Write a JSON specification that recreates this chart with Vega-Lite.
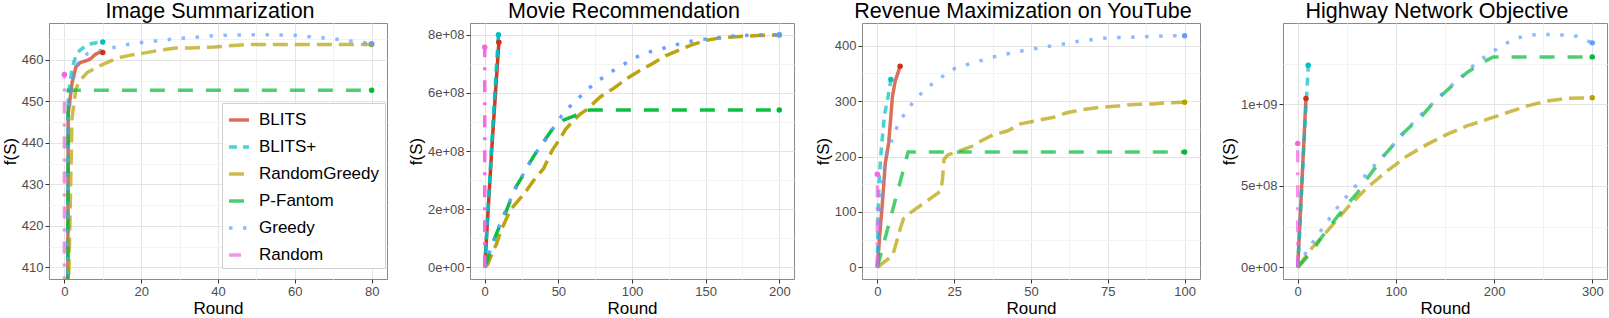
{
"$schema": "https://vega.github.io/schema/vega-lite/v6.json",
"padding": 0,
"spacing": 18,
"datasets": {"d": [
{"panel":1,"alg":"BLITS","round":0,"f":0},{"panel":1,"alg":"BLITS","round":1,"f":447},{"panel":1,"alg":"BLITS","round":2,"f":454.5},{"panel":1,"alg":"BLITS","round":3,"f":458.3},{"panel":1,"alg":"BLITS","round":4,"f":459.3},{"panel":1,"alg":"BLITS","round":5,"f":459.6},{"panel":1,"alg":"BLITS","round":6,"f":459.9},{"panel":1,"alg":"BLITS","round":7,"f":460.4},{"panel":1,"alg":"BLITS","round":8,"f":461.3},{"panel":1,"alg":"BLITS","round":9,"f":461.8},{"panel":1,"alg":"BLITS","round":10,"f":461.8},
{"panel":1,"alg":"BLITS+","round":0,"f":0},{"panel":1,"alg":"BLITS+","round":1,"f":451.5},{"panel":1,"alg":"BLITS+","round":2,"f":458},{"panel":1,"alg":"BLITS+","round":3,"f":461},{"panel":1,"alg":"BLITS+","round":4,"f":462.3},{"panel":1,"alg":"BLITS+","round":5,"f":463},{"panel":1,"alg":"BLITS+","round":6,"f":463.5},{"panel":1,"alg":"BLITS+","round":7,"f":463.9},{"panel":1,"alg":"BLITS+","round":8,"f":464.1},{"panel":1,"alg":"BLITS+","round":9,"f":464.3},{"panel":1,"alg":"BLITS+","round":10,"f":464.3},
{"panel":1,"alg":"RandomGreedy","round":0,"f":0},{"panel":1,"alg":"RandomGreedy","round":1,"f":400},{"panel":1,"alg":"RandomGreedy","round":2,"f":446},{"panel":1,"alg":"RandomGreedy","round":3,"f":453},{"panel":1,"alg":"RandomGreedy","round":4,"f":455},{"panel":1,"alg":"RandomGreedy","round":6,"f":457},{"panel":1,"alg":"RandomGreedy","round":9,"f":458.5},{"panel":1,"alg":"RandomGreedy","round":14,"f":460.5},{"panel":1,"alg":"RandomGreedy","round":17,"f":461.1},{"panel":1,"alg":"RandomGreedy","round":21,"f":461.7},{"panel":1,"alg":"RandomGreedy","round":24,"f":462.2},{"panel":1,"alg":"RandomGreedy","round":29,"f":462.9},{"panel":1,"alg":"RandomGreedy","round":33,"f":462.9},{"panel":1,"alg":"RandomGreedy","round":39,"f":463.1},{"panel":1,"alg":"RandomGreedy","round":44,"f":463.5},{"panel":1,"alg":"RandomGreedy","round":48,"f":463.7},{"panel":1,"alg":"RandomGreedy","round":60,"f":463.7},{"panel":1,"alg":"RandomGreedy","round":80,"f":463.7},
{"panel":1,"alg":"P-Fantom","round":0,"f":0},{"panel":1,"alg":"P-Fantom","round":1,"f":452.7},{"panel":1,"alg":"P-Fantom","round":80,"f":452.7},
{"panel":1,"alg":"Greedy","round":0,"f":0},{"panel":1,"alg":"Greedy","round":1,"f":446},{"panel":1,"alg":"Greedy","round":2,"f":454},{"panel":1,"alg":"Greedy","round":3,"f":458},{"panel":1,"alg":"Greedy","round":4,"f":460.3},{"panel":1,"alg":"Greedy","round":6,"f":461.5},{"panel":1,"alg":"Greedy","round":8,"f":462},{"panel":1,"alg":"Greedy","round":10,"f":462.4},{"panel":1,"alg":"Greedy","round":12,"f":462.8},{"panel":1,"alg":"Greedy","round":15,"f":463.5},{"panel":1,"alg":"Greedy","round":19,"f":464.1},{"panel":1,"alg":"Greedy","round":23,"f":464.5},{"panel":1,"alg":"Greedy","round":30,"f":465.2},{"panel":1,"alg":"Greedy","round":40,"f":465.9},{"panel":1,"alg":"Greedy","round":50,"f":466.1},{"panel":1,"alg":"Greedy","round":59,"f":466},{"panel":1,"alg":"Greedy","round":66,"f":465.4},{"panel":1,"alg":"Greedy","round":70,"f":465.1},{"panel":1,"alg":"Greedy","round":73,"f":464.7},{"panel":1,"alg":"Greedy","round":77,"f":464.3},{"panel":1,"alg":"Greedy","round":80,"f":463.9},
{"panel":1,"alg":"Random","round":0,"f":0},{"panel":1,"alg":"Random","round":0,"f":456.5},

{"panel":2,"alg":"BLITS","round":0,"f":0},{"panel":2,"alg":"BLITS","round":4.7,"f":4.0e8},{"panel":2,"alg":"BLITS","round":9.6,"f":7.74e8},
{"panel":2,"alg":"BLITS+","round":0,"f":0},{"panel":2,"alg":"BLITS+","round":4.5,"f":4.0e8},{"panel":2,"alg":"BLITS+","round":9.3,"f":8.0e8},
{"panel":2,"alg":"RandomGreedy","round":0,"f":0},{"panel":2,"alg":"RandomGreedy","round":2,"f":0.1e8},{"panel":2,"alg":"RandomGreedy","round":5.5,"f":0.55e8},{"panel":2,"alg":"RandomGreedy","round":8,"f":0.8e8},{"panel":2,"alg":"RandomGreedy","round":11,"f":1.26e8},{"panel":2,"alg":"RandomGreedy","round":17.7,"f":2.0e8},{"panel":2,"alg":"RandomGreedy","round":26.6,"f":2.52e8},{"panel":2,"alg":"RandomGreedy","round":33.4,"f":3.0e8},{"panel":2,"alg":"RandomGreedy","round":40,"f":3.4e8},{"panel":2,"alg":"RandomGreedy","round":45.5,"f":4.0e8},{"panel":2,"alg":"RandomGreedy","round":51.3,"f":4.44e8},{"panel":2,"alg":"RandomGreedy","round":55,"f":4.75e8},{"panel":2,"alg":"RandomGreedy","round":60.3,"f":5.04e8},{"panel":2,"alg":"RandomGreedy","round":64.8,"f":5.27e8},{"panel":2,"alg":"RandomGreedy","round":69.3,"f":5.42e8},{"panel":2,"alg":"RandomGreedy","round":78.2,"f":5.85e8},{"panel":2,"alg":"RandomGreedy","round":88,"f":6.17e8},{"panel":2,"alg":"RandomGreedy","round":96.2,"f":6.48e8},{"panel":2,"alg":"RandomGreedy","round":105.1,"f":6.76e8},{"panel":2,"alg":"RandomGreedy","round":114.1,"f":7.01e8},{"panel":2,"alg":"RandomGreedy","round":123.1,"f":7.28e8},{"panel":2,"alg":"RandomGreedy","round":132,"f":7.47e8},{"panel":2,"alg":"RandomGreedy","round":141,"f":7.66e8},{"panel":2,"alg":"RandomGreedy","round":150,"f":7.8e8},{"panel":2,"alg":"RandomGreedy","round":159,"f":7.88e8},{"panel":2,"alg":"RandomGreedy","round":168,"f":7.92e8},{"panel":2,"alg":"RandomGreedy","round":177,"f":7.95e8},{"panel":2,"alg":"RandomGreedy","round":186,"f":7.97e8},{"panel":2,"alg":"RandomGreedy","round":200,"f":7.99e8},
{"panel":2,"alg":"P-Fantom","round":0,"f":0},{"panel":2,"alg":"P-Fantom","round":6.5,"f":0.97e8},{"panel":2,"alg":"P-Fantom","round":9.8,"f":1.38e8},{"panel":2,"alg":"P-Fantom","round":14,"f":1.86e8},{"panel":2,"alg":"P-Fantom","round":21,"f":2.75e8},{"panel":2,"alg":"P-Fantom","round":26.6,"f":3.21e8},{"panel":2,"alg":"P-Fantom","round":30,"f":3.55e8},{"panel":2,"alg":"P-Fantom","round":35.6,"f":4.01e8},{"panel":2,"alg":"P-Fantom","round":41.2,"f":4.41e8},{"panel":2,"alg":"P-Fantom","round":46.8,"f":4.81e8},{"panel":2,"alg":"P-Fantom","round":53.5,"f":5.06e8},{"panel":2,"alg":"P-Fantom","round":61.4,"f":5.22e8},{"panel":2,"alg":"P-Fantom","round":66,"f":5.39e8},{"panel":2,"alg":"P-Fantom","round":71.5,"f":5.41e8},{"panel":2,"alg":"P-Fantom","round":200,"f":5.41e8},
{"panel":2,"alg":"Greedy","round":0,"f":0},{"panel":2,"alg":"Greedy","round":3.1,"f":0.5e8},{"panel":2,"alg":"Greedy","round":6.5,"f":0.97e8},{"panel":2,"alg":"Greedy","round":9.8,"f":1.42e8},{"panel":2,"alg":"Greedy","round":13.5,"f":1.87e8},{"panel":2,"alg":"Greedy","round":17.5,"f":2.33e8},{"panel":2,"alg":"Greedy","round":21.3,"f":2.75e8},{"panel":2,"alg":"Greedy","round":25.6,"f":3.15e8},{"panel":2,"alg":"Greedy","round":30.5,"f":3.6e8},{"panel":2,"alg":"Greedy","round":35.7,"f":4.0e8},{"panel":2,"alg":"Greedy","round":41.2,"f":4.38e8},{"panel":2,"alg":"Greedy","round":46.6,"f":4.79e8},{"panel":2,"alg":"Greedy","round":51.6,"f":5.17e8},{"panel":2,"alg":"Greedy","round":57.8,"f":5.53e8},{"panel":2,"alg":"Greedy","round":64.5,"f":5.86e8},{"panel":2,"alg":"Greedy","round":71.5,"f":6.19e8},{"panel":2,"alg":"Greedy","round":79.2,"f":6.49e8},{"panel":2,"alg":"Greedy","round":87,"f":6.76e8},{"panel":2,"alg":"Greedy","round":94.8,"f":6.99e8},{"panel":2,"alg":"Greedy","round":102.5,"f":7.22e8},{"panel":2,"alg":"Greedy","round":110.7,"f":7.39e8},{"panel":2,"alg":"Greedy","round":119.7,"f":7.51e8},{"panel":2,"alg":"Greedy","round":127.5,"f":7.62e8},{"panel":2,"alg":"Greedy","round":136.5,"f":7.74e8},{"panel":2,"alg":"Greedy","round":145.5,"f":7.82e8},{"panel":2,"alg":"Greedy","round":155.6,"f":7.88e8},{"panel":2,"alg":"Greedy","round":164.5,"f":7.93e8},{"panel":2,"alg":"Greedy","round":174.6,"f":7.97e8},{"panel":2,"alg":"Greedy","round":184.7,"f":7.99e8},{"panel":2,"alg":"Greedy","round":200,"f":8.0e8},
{"panel":2,"alg":"Random","round":0,"f":0},{"panel":2,"alg":"Random","round":0,"f":7.57e8},

{"panel":3,"alg":"BLITS","round":0,"f":0},{"panel":3,"alg":"BLITS","round":0.8,"f":60},{"panel":3,"alg":"BLITS","round":1.6,"f":114},{"panel":3,"alg":"BLITS","round":2.6,"f":189},{"panel":3,"alg":"BLITS","round":3.7,"f":225},{"panel":3,"alg":"BLITS","round":4.9,"f":308},{"panel":3,"alg":"BLITS","round":5.8,"f":336},{"panel":3,"alg":"BLITS","round":7.4,"f":363},
{"panel":3,"alg":"BLITS+","round":0,"f":0},{"panel":3,"alg":"BLITS+","round":0.2,"f":90},{"panel":3,"alg":"BLITS+","round":0.5,"f":150},{"panel":3,"alg":"BLITS+","round":1.3,"f":216},{"panel":3,"alg":"BLITS+","round":2.3,"f":274},{"panel":3,"alg":"BLITS+","round":3.5,"f":309},{"panel":3,"alg":"BLITS+","round":4.4,"f":339},
{"panel":3,"alg":"RandomGreedy","round":0,"f":0},{"panel":3,"alg":"RandomGreedy","round":5,"f":22},{"panel":3,"alg":"RandomGreedy","round":6.2,"f":45},{"panel":3,"alg":"RandomGreedy","round":7.2,"f":65},{"panel":3,"alg":"RandomGreedy","round":8.5,"f":88},{"panel":3,"alg":"RandomGreedy","round":10,"f":96},{"panel":3,"alg":"RandomGreedy","round":12.1,"f":104},{"panel":3,"alg":"RandomGreedy","round":16.4,"f":121},{"panel":3,"alg":"RandomGreedy","round":20.7,"f":138},{"panel":3,"alg":"RandomGreedy","round":21.2,"f":160},{"panel":3,"alg":"RandomGreedy","round":21.7,"f":195},{"panel":3,"alg":"RandomGreedy","round":23,"f":203},{"panel":3,"alg":"RandomGreedy","round":26.7,"f":210},{"panel":3,"alg":"RandomGreedy","round":31,"f":219},{"panel":3,"alg":"RandomGreedy","round":33.7,"f":228},{"panel":3,"alg":"RandomGreedy","round":38,"f":240},{"panel":3,"alg":"RandomGreedy","round":42.3,"f":246},{"panel":3,"alg":"RandomGreedy","round":46.6,"f":259},{"panel":3,"alg":"RandomGreedy","round":52,"f":265},{"panel":3,"alg":"RandomGreedy","round":57.4,"f":271},{"panel":3,"alg":"RandomGreedy","round":61.7,"f":279},{"panel":3,"alg":"RandomGreedy","round":67.1,"f":285},{"panel":3,"alg":"RandomGreedy","round":72.5,"f":289},{"panel":3,"alg":"RandomGreedy","round":77.9,"f":291},{"panel":3,"alg":"RandomGreedy","round":83.3,"f":294},{"panel":3,"alg":"RandomGreedy","round":89.7,"f":295},{"panel":3,"alg":"RandomGreedy","round":94,"f":297},{"panel":3,"alg":"RandomGreedy","round":100,"f":298},
{"panel":3,"alg":"P-Fantom","round":0,"f":0},{"panel":3,"alg":"P-Fantom","round":10,"f":208},{"panel":3,"alg":"P-Fantom","round":100,"f":208},
{"panel":3,"alg":"Greedy","round":0,"f":0},{"panel":3,"alg":"Greedy","round":0.5,"f":60},{"panel":3,"alg":"Greedy","round":1,"f":105},{"panel":3,"alg":"Greedy","round":1.5,"f":150},{"panel":3,"alg":"Greedy","round":2.9,"f":201},{"panel":3,"alg":"Greedy","round":4.4,"f":224},{"panel":3,"alg":"Greedy","round":5.7,"f":245},{"panel":3,"alg":"Greedy","round":7.2,"f":263},{"panel":3,"alg":"Greedy","round":9.1,"f":279},{"panel":3,"alg":"Greedy","round":11.2,"f":295},{"panel":3,"alg":"Greedy","round":13.7,"f":310.7},{"panel":3,"alg":"Greedy","round":16.3,"f":324.5},{"panel":3,"alg":"Greedy","round":19.3,"f":337},{"panel":3,"alg":"Greedy","round":22.2,"f":348.5},{"panel":3,"alg":"Greedy","round":25.2,"f":359},{"panel":3,"alg":"Greedy","round":28.7,"f":365},{"panel":3,"alg":"Greedy","round":32.3,"f":371},{"panel":3,"alg":"Greedy","round":35.7,"f":376},{"panel":3,"alg":"Greedy","round":39.2,"f":382},{"panel":3,"alg":"Greedy","round":42.8,"f":386},{"panel":3,"alg":"Greedy","round":46.4,"f":390},{"panel":3,"alg":"Greedy","round":49.9,"f":393.5},{"panel":3,"alg":"Greedy","round":53.1,"f":396.5},{"panel":3,"alg":"Greedy","round":56.9,"f":400},{"panel":3,"alg":"Greedy","round":60.6,"f":403},{"panel":3,"alg":"Greedy","round":63.8,"f":406.6},{"panel":3,"alg":"Greedy","round":67,"f":409},{"panel":3,"alg":"Greedy","round":70.9,"f":412},{"panel":3,"alg":"Greedy","round":74.6,"f":414},{"panel":3,"alg":"Greedy","round":79,"f":415},{"panel":3,"alg":"Greedy","round":85.4,"f":415.7},{"panel":3,"alg":"Greedy","round":89.7,"f":416.9},{"panel":3,"alg":"Greedy","round":95.7,"f":418},{"panel":3,"alg":"Greedy","round":100,"f":418},
{"panel":3,"alg":"Random","round":0,"f":0},{"panel":3,"alg":"Random","round":0,"f":168},

{"panel":4,"alg":"BLITS","round":0,"f":0},{"panel":4,"alg":"BLITS","round":8.4,"f":1.037e9},
{"panel":4,"alg":"BLITS+","round":0,"f":0},{"panel":4,"alg":"BLITS+","round":8.4,"f":1.0e9},{"panel":4,"alg":"BLITS+","round":9.1,"f":1.06e9},{"panel":4,"alg":"BLITS+","round":10.1,"f":1.163e9},{"panel":4,"alg":"BLITS+","round":10.7,"f":1.24e9},
{"panel":4,"alg":"RandomGreedy","round":0,"f":0},{"panel":4,"alg":"RandomGreedy","round":13.5,"f":0.112e9},{"panel":4,"alg":"RandomGreedy","round":30.4,"f":0.225e9},{"panel":4,"alg":"RandomGreedy","round":50.7,"f":0.367e9},{"panel":4,"alg":"RandomGreedy","round":70.9,"f":0.49e9},{"panel":4,"alg":"RandomGreedy","round":91.2,"f":0.592e9},{"panel":4,"alg":"RandomGreedy","round":111.5,"f":0.684e9},{"panel":4,"alg":"RandomGreedy","round":131.8,"f":0.755e9},{"panel":4,"alg":"RandomGreedy","round":152,"f":0.816e9},{"panel":4,"alg":"RandomGreedy","round":172.3,"f":0.868e9},{"panel":4,"alg":"RandomGreedy","round":192.6,"f":0.908e9},{"panel":4,"alg":"RandomGreedy","round":212.8,"f":0.949e9},{"panel":4,"alg":"RandomGreedy","round":233.1,"f":0.99e9},{"panel":4,"alg":"RandomGreedy","round":253.4,"f":1.021e9},{"panel":4,"alg":"RandomGreedy","round":273.6,"f":1.037e9},{"panel":4,"alg":"RandomGreedy","round":300,"f":1.041e9},
{"panel":4,"alg":"P-Fantom","round":0,"f":0},{"panel":4,"alg":"P-Fantom","round":15,"f":0.1e9},{"panel":4,"alg":"P-Fantom","round":25,"f":0.19e9},{"panel":4,"alg":"P-Fantom","round":37,"f":0.286e9},{"panel":4,"alg":"P-Fantom","round":52,"f":0.398e9},{"panel":4,"alg":"P-Fantom","round":61,"f":0.459e9},{"panel":4,"alg":"P-Fantom","round":69,"f":0.531e9},{"panel":4,"alg":"P-Fantom","round":79,"f":0.612e9},{"panel":4,"alg":"P-Fantom","round":86,"f":0.674e9},{"panel":4,"alg":"P-Fantom","round":98,"f":0.755e9},{"panel":4,"alg":"P-Fantom","round":106,"f":0.816e9},{"panel":4,"alg":"P-Fantom","round":117,"f":0.878e9},{"panel":4,"alg":"P-Fantom","round":125,"f":0.919e9},{"panel":4,"alg":"P-Fantom","round":138,"f":1.01e9},{"panel":4,"alg":"P-Fantom","round":150,"f":1.075e9},{"panel":4,"alg":"P-Fantom","round":160,"f":1.13e9},{"panel":4,"alg":"P-Fantom","round":172,"f":1.194e9},{"panel":4,"alg":"P-Fantom","round":186,"f":1.25e9},{"panel":4,"alg":"P-Fantom","round":199,"f":1.292e9},{"panel":4,"alg":"P-Fantom","round":300,"f":1.292e9},
{"panel":4,"alg":"Greedy","round":0,"f":0},{"panel":4,"alg":"Greedy","round":7.4,"f":0.081e9},{"panel":4,"alg":"Greedy","round":15.2,"f":0.153e9},{"panel":4,"alg":"Greedy","round":23.6,"f":0.225e9},{"panel":4,"alg":"Greedy","round":32,"f":0.296e9},{"panel":4,"alg":"Greedy","round":39.8,"f":0.363e9},{"panel":4,"alg":"Greedy","round":49,"f":0.429e9},{"panel":4,"alg":"Greedy","round":58.1,"f":0.494e9},{"panel":4,"alg":"Greedy","round":67.5,"f":0.555e9},{"panel":4,"alg":"Greedy","round":77.7,"f":0.623e9},{"panel":4,"alg":"Greedy","round":87.2,"f":0.684e9},{"panel":4,"alg":"Greedy","round":97.3,"f":0.751e9},{"panel":4,"alg":"Greedy","round":106.4,"f":0.813e9},{"panel":4,"alg":"Greedy","round":115.5,"f":0.874e9},{"panel":4,"alg":"Greedy","round":125.7,"f":0.939e9},{"panel":4,"alg":"Greedy","round":135.8,"f":0.996e9},{"panel":4,"alg":"Greedy","round":146,"f":1.058e9},{"panel":4,"alg":"Greedy","round":156,"f":1.113e9},{"panel":4,"alg":"Greedy","round":167.2,"f":1.174e9},{"panel":4,"alg":"Greedy","round":177.3,"f":1.231e9},{"panel":4,"alg":"Greedy","round":187.5,"f":1.28e9},{"panel":4,"alg":"Greedy","round":199.3,"f":1.327e9},{"panel":4,"alg":"Greedy","round":210,"f":1.367e9},{"panel":4,"alg":"Greedy","round":221.2,"f":1.404e9},{"panel":4,"alg":"Greedy","round":234.7,"f":1.425e9},{"panel":4,"alg":"Greedy","round":246.5,"f":1.429e9},{"panel":4,"alg":"Greedy","round":260,"f":1.429e9},{"panel":4,"alg":"Greedy","round":273.6,"f":1.425e9},{"panel":4,"alg":"Greedy","round":283.8,"f":1.419e9},{"panel":4,"alg":"Greedy","round":300,"f":1.378e9},
{"panel":4,"alg":"Random","round":0,"f":0},{"panel":4,"alg":"Random","round":0,"f":0.761e9}
]},
"data": {"name": "d"},
"hconcat": [
{
 "width": 338, "height": 256,
 "title": {"text": "Image Summarization"},
 "transform": [{"filter": "datum.panel === 1"}],
 "encoding": {
  "x": {"field": "round", "type": "quantitative", "title": "Round", "scale": {"domain": [-4, 84], "nice": false, "zero": false},
        "axis": {"values": [0,10,20,30,40,50,60,70,80], "labelExpr": "datum.value % 20 === 0 ? datum.label : ''",
                 "tickOpacity": {"condition": {"test": "datum.value % 20 !== 0", "value": 0}, "value": 1},
                 "gridColor": {"condition": {"test": "datum.value % 20 !== 0", "value": "#f3f3f3"}, "value": "#e4e4e4"}}},
  "y": {"field": "f", "type": "quantitative", "title": "f(S)", "scale": {"domain": [407.2, 468.9], "nice": false, "zero": false},
        "axis": {"values": [410,415,420,425,430,435,440,445,450,455,460,465], "labelExpr": "datum.value % 10 === 0 ? datum.label : ''",
                 "tickOpacity": {"condition": {"test": "datum.value % 10 !== 0", "value": 0}, "value": 1},
                 "gridColor": {"condition": {"test": "datum.value % 10 !== 0", "value": "#f3f3f3"}, "value": "#e4e4e4"}}},
  "color": {"field": "alg", "type": "nominal",
            "scale": {"domain": ["BLITS","BLITS+","RandomGreedy","P-Fantom","Greedy","Random"], "range": ["#CD3214","#00BFC4","#B79F00","#00BA38","#619CFF","#F564E3"]},
            "legend": {"title": null, "orient": "none", "legendX": 173, "legendY": 80}}
 },
 "layer": [
  {"mark": {"type": "line", "strokeWidth": 3.5, "opacity": 0.7, "clip": true, "strokeCap": "butt"},
   "encoding": {"strokeDash": {"field": "alg", "type": "nominal",
     "scale": {"domain": ["BLITS","BLITS+","RandomGreedy","P-Fantom","Greedy","Random"], "range": [[1,0],[8,6],[15,7],[15,13],[3.5,10.5],[12,10,3,10]]},
     "legend": {"title": null, "orient": "none", "legendX": 173, "legendY": 80}}}},
  {"transform": [{"window": [{"op": "row_number", "as": "rn"}], "groupby": ["alg"]},
                 {"joinaggregate": [{"op": "count", "as": "n"}], "groupby": ["alg"]},
                 {"filter": "datum.rn === datum.n"}],
   "mark": {"type": "circle", "size": 30, "opacity": 1, "clip": true},
   "encoding": {"color": {"field": "alg", "type": "nominal", "legend": null}}}
 ]
},
{
 "width": 324, "height": 256,
 "title": {"text": "Movie Recommendation"},
 "transform": [{"filter": "datum.panel === 2"}],
 "encoding": {
  "x": {"field": "round", "type": "quantitative", "title": "Round", "scale": {"domain": [-10, 210], "nice": false, "zero": false},
        "axis": {"values": [0,25,50,75,100,125,150,175,200], "labelExpr": "datum.value % 50 === 0 ? datum.label : ''",
                 "tickOpacity": {"condition": {"test": "datum.value % 50 !== 0", "value": 0}, "value": 1},
                 "gridColor": {"condition": {"test": "datum.value % 50 !== 0", "value": "#f3f3f3"}, "value": "#e4e4e4"}}},
  "y": {"field": "f", "type": "quantitative", "title": "f(S)", "scale": {"domain": [-0.4e8, 8.4e8], "nice": false, "zero": false},
        "axis": {"values": [0,1e8,2e8,3e8,4e8,5e8,6e8,7e8,8e8],
                 "labelExpr": "datum.value === 0 ? '0e+00' : (datum.value % 2e8 === 0 ? (datum.value / 1e8) + 'e+08' : '')",
                 "tickOpacity": {"condition": {"test": "datum.value % 2e8 !== 0", "value": 0}, "value": 1},
                 "gridColor": {"condition": {"test": "datum.value % 2e8 !== 0", "value": "#f3f3f3"}, "value": "#e4e4e4"}}},
  "color": {"field": "alg", "type": "nominal"}
 },
 "layer": [
  {"mark": {"type": "line", "strokeWidth": 3.5, "opacity": 0.95, "clip": true, "strokeCap": "butt"},
   "encoding": {"strokeDash": {"field": "alg", "type": "nominal"}}},
  {"transform": [{"window": [{"op": "row_number", "as": "rn"}], "groupby": ["alg"]},
                 {"joinaggregate": [{"op": "count", "as": "n"}], "groupby": ["alg"]},
                 {"filter": "datum.rn === datum.n"}],
   "mark": {"type": "circle", "size": 30, "opacity": 1, "clip": true},
   "encoding": {"color": {"field": "alg", "type": "nominal", "legend": null}}}
 ]
},
{
 "width": 338, "height": 256,
 "title": {"text": "Revenue Maximization on YouTube"},
 "transform": [{"filter": "datum.panel === 3"}],
 "encoding": {
  "x": {"field": "round", "type": "quantitative", "title": "Round", "scale": {"domain": [-5, 105], "nice": false, "zero": false},
        "axis": {"values": [0,12.5,25,37.5,50,62.5,75,87.5,100], "labelExpr": "datum.value % 25 === 0 ? datum.label : ''",
                 "tickOpacity": {"condition": {"test": "datum.value % 25 !== 0", "value": 0}, "value": 1},
                 "gridColor": {"condition": {"test": "datum.value % 25 !== 0", "value": "#f3f3f3"}, "value": "#e4e4e4"}}},
  "y": {"field": "f", "type": "quantitative", "title": "f(S)", "scale": {"domain": [-21, 441], "nice": false, "zero": false},
        "axis": {"values": [0,50,100,150,200,250,300,350,400], "labelExpr": "datum.value % 100 === 0 ? datum.label : ''",
                 "tickOpacity": {"condition": {"test": "datum.value % 100 !== 0", "value": 0}, "value": 1},
                 "gridColor": {"condition": {"test": "datum.value % 100 !== 0", "value": "#f3f3f3"}, "value": "#e4e4e4"}}},
  "color": {"field": "alg", "type": "nominal"}
 },
 "layer": [
  {"mark": {"type": "line", "strokeWidth": 3.5, "opacity": 0.7, "clip": true, "strokeCap": "butt"},
   "encoding": {"strokeDash": {"field": "alg", "type": "nominal"}}},
  {"transform": [{"window": [{"op": "row_number", "as": "rn"}], "groupby": ["alg"]},
                 {"joinaggregate": [{"op": "count", "as": "n"}], "groupby": ["alg"]},
                 {"filter": "datum.rn === datum.n"}],
   "mark": {"type": "circle", "size": 30, "opacity": 1, "clip": true},
   "encoding": {"color": {"field": "alg", "type": "nominal", "legend": null}}}
 ]
},
{
 "width": 324, "height": 256,
 "title": {"text": "Highway Network Objective"},
 "transform": [{"filter": "datum.panel === 4"}],
 "encoding": {
  "x": {"field": "round", "type": "quantitative", "title": "Round", "scale": {"domain": [-15, 315], "nice": false, "zero": false},
        "axis": {"values": [0,50,100,150,200,250,300], "labelExpr": "datum.value % 100 === 0 ? datum.label : ''",
                 "tickOpacity": {"condition": {"test": "datum.value % 100 !== 0", "value": 0}, "value": 1},
                 "gridColor": {"condition": {"test": "datum.value % 100 !== 0", "value": "#f3f3f3"}, "value": "#e4e4e4"}}},
  "y": {"field": "f", "type": "quantitative", "title": "f(S)", "scale": {"domain": [-0.0715e9, 1.5e9], "nice": false, "zero": false},
        "axis": {"values": [0,2.5e8,5e8,7.5e8,1e9,1.25e9],
                 "labelExpr": "datum.value === 0 ? '0e+00' : (datum.value === 5e8 ? '5e+08' : (datum.value === 1e9 ? '1e+09' : ''))",
                 "tickOpacity": {"condition": {"test": "datum.value % 5e8 !== 0", "value": 0}, "value": 1},
                 "gridColor": {"condition": {"test": "datum.value % 5e8 !== 0", "value": "#f3f3f3"}, "value": "#e4e4e4"}}},
  "color": {"field": "alg", "type": "nominal"}
 },
 "layer": [
  {"mark": {"type": "line", "strokeWidth": 3.5, "opacity": 0.7, "clip": true, "strokeCap": "butt"},
   "encoding": {"strokeDash": {"field": "alg", "type": "nominal"}}},
  {"transform": [{"window": [{"op": "row_number", "as": "rn"}], "groupby": ["alg"]},
                 {"joinaggregate": [{"op": "count", "as": "n"}], "groupby": ["alg"]},
                 {"filter": "datum.rn === datum.n"}],
   "mark": {"type": "circle", "size": 30, "opacity": 1, "clip": true},
   "encoding": {"color": {"field": "alg", "type": "nominal", "legend": null}}}
 ]
}
],
"config": {
 "font": "Liberation Sans",
 "background": "#ffffff",
 "view": {"stroke": "#8a8a8a", "strokeWidth": 1},
 "axis": {"domain": false, "tickColor": "#333333", "tickSize": 4, "labelColor": "#4d4d4d", "labelFontSize": 13, "labelPadding": 2,
          "titleFontSize": 17, "titleFontWeight": "normal", "titleColor": "#000000", "labelFlush": false, "labelOverlap": false, "titlePadding": 2},
 "axisY": {"minExtent": 0},
 "title": {"fontSize": 21.5, "fontWeight": "normal", "color": "#000000", "anchor": "middle", "frame": "group", "dx": -8, "offset": 1},
 "legend": {"symbolType": "stroke", "symbolSize": 400, "symbolStrokeWidth": 3.5, "symbolOpacity": 0.7, "labelFontSize": 17, "labelColor": "#000000",
            "rowPadding": 7, "padding": 5, "strokeColor": "#d0d0d0", "fillColor": "#ffffff", "labelOffset": 8}
}
}
